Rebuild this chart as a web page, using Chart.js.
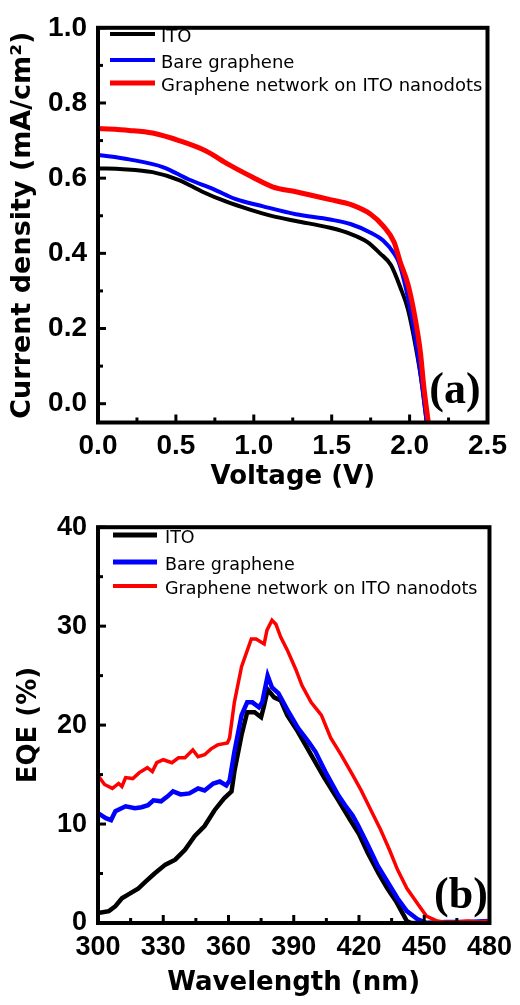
<!DOCTYPE html>
<html>
<head>
<meta charset="utf-8">
<script src="https://cdn.jsdelivr.net/npm/chart.js@4/dist/chart.umd.min.js"></script>
<style>
html,body{margin:0;padding:0;background:#fff;}
#wrap{position:relative;width:520px;height:1005px;}
canvas{position:absolute;left:0;}
</style>
</head>
<body>
<div id="wrap">
<canvas id="ca" width="520" height="500" style="top:0"></canvas>
<canvas id="cb" width="520" height="505" style="top:500px"></canvas>
</div>
<script>
// ---------- Panel (a): J-V curves ----------
const seriesLabels = ['ITO', 'Bare graphene', 'Graphene network on ITO nanodots'];

const vITO  = [0,0.16,0.35,0.52,0.67,0.82,0.97,1.12,1.27,1.49,1.62,1.73,1.81,1.88,1.94,1.99,2.04,2.08,2.11];
const jITO  = [0.626,0.624,0.616,0.595,0.564,0.538,0.517,0.499,0.486,0.468,0.452,0.430,0.400,0.369,0.310,0.250,0.150,0.050,-0.050];

const vBare = [0,0.2,0.42,0.58,0.74,0.88,1.06,1.27,1.49,1.62,1.75,1.83,1.90,1.93,1.98,2.03,2.07,2.11];
const jBare = [0.662,0.650,0.629,0.597,0.571,0.545,0.525,0.504,0.490,0.478,0.455,0.434,0.400,0.377,0.300,0.190,0.080,-0.050];

const vGr   = [0,0.2,0.35,0.52,0.69,0.84,0.99,1.12,1.27,1.49,1.62,1.75,1.83,1.90,1.94,1.99,2.03,2.07,2.09,2.12];
const jGr   = [0.732,0.727,0.720,0.700,0.673,0.636,0.603,0.577,0.564,0.543,0.530,0.504,0.473,0.430,0.377,0.317,0.240,0.135,0.050,-0.050];

const xTicksA = [0,0.5,1.0,1.5,2.0,2.5];
const yTicksA = [0,0.2,0.4,0.6,0.8,1.0];

// ---------- Panel (b): EQE spectra ----------
const wlITO  = [300,305,308,311,314,318.6,322,326,331,335.5,340,344.5,349,353.6,358,361.4,362.7,366,368.6,372,375,376.4,378,381,384,387,392,398,404,410.5,416,420,424,429,433,437,440,442,444,450,460,470,480];
const eqeITO = [1.0,1.2,1.7,2.5,2.9,3.5,4.2,5.0,5.9,6.4,7.4,8.8,9.8,11.4,12.6,13.3,15.3,19.0,21.3,21.3,20.8,22.0,23.6,22.8,22.5,21.0,19.3,17.0,14.7,12.4,10.4,9.0,7.1,5.0,3.5,2.2,1.0,0.2,0,0,0,0,0];

const wlBare  = [300,303.6,306,308,312.7,317,320,323,325.5,329,332,334.5,338,342,346,349,353,356,359,360.5,362.7,366,368.6,371,374,375.5,378,380,383,387.7,392,396.8,400,404.5,410.5,413.6,417,419.5,424,428.6,433,437.7,442,446.8,451,460,470,480];
const eqeBare = [11.1,10.6,10.4,11.3,11.8,11.6,11.7,11.9,12.4,12.3,12.8,13.3,13.0,13.1,13.6,13.4,14.1,14.3,13.9,14.4,17.3,21.0,22.3,22.3,21.8,22.3,25.0,23.8,23.2,21.3,19.7,18.3,17.3,15.3,12.9,11.9,10.9,9.9,7.9,5.8,4.2,2.5,1.2,0.4,0.0,0.1,0.1,0.2];

const wlGr  = [300,303,306.6,309.5,311,312.7,316,319,322.7,325,327,330,334,337,340,343.6,346,349,352,355,359.5,360.5,362.7,366,370.5,372.7,376.4,377.7,380,381.8,384,387,389,391,393.8,398,402.7,407,411.8,417,421,425.5,430,434,437.7,442,446.8,451,456,459,465,470,475,480];
const eqeGr = [14.9,14.0,13.6,14.1,13.8,14.7,14.6,15.2,15.7,15.3,16.2,16.5,16.2,16.7,16.7,17.5,16.8,17.0,17.6,18.0,18.2,18.7,22.3,25.9,28.7,28.7,28.2,29.6,30.6,30.2,28.9,27.6,26.6,25.6,24.0,22.3,21.0,18.7,17.0,15.0,13.4,11.4,9.4,7.4,5.4,3.5,2.0,0.7,0.2,0.1,0.1,0.2,0.1,0.2];

const xTicksB = [300,330,360,390,420,450,480];
const yTicksB = [0,10,20,30,40];

const colors = ['#000000', '#0000ff', '#ff0000'];

function pairs(xs, ys){ return xs.map((x,i)=>({x:x, y:ys[i]})); }
function mids(arr){ const m=[]; for(let i=0;i<arr.length-1;i++) m.push((arr[i]+arr[i+1])/2); return m; }

const framePlugin = {
  id: 'frame',
  afterDatasetsDraw(chart, args, o) {
    const {ctx, chartArea: a, scales: {x, y}} = chart;
    ctx.save();
    ctx.strokeStyle = '#000';
    ctx.lineWidth = 3;
    ctx.lineCap = 'butt';
    const tx = (v, len) => { const p = x.getPixelForValue(v); ctx.beginPath(); ctx.moveTo(p, a.bottom); ctx.lineTo(p, a.bottom - len); ctx.stroke(); };
    const ty = (v, len) => { const p = y.getPixelForValue(v); ctx.beginPath(); ctx.moveTo(a.left, p); ctx.lineTo(a.left + len, p); ctx.stroke(); };
    o.xMajor.forEach(v => tx(v, 8));
    mids(o.xMajor).forEach(v => tx(v, 5));
    o.yMajor.forEach(v => ty(v, 8));
    mids(o.yMajor).forEach(v => ty(v, 5));
    ctx.lineWidth = 4;
    ctx.strokeRect(a.left, a.top, a.right - a.left, a.bottom - a.top);
    // legend
    ctx.font = o.legendFont;
    ctx.textBaseline = 'middle';
    ctx.textAlign = 'left';
    chart.data.datasets.forEach((ds, i) => {
      const yy = o.legendY[i];
      ctx.strokeStyle = ds.borderColor;
      ctx.lineWidth = ds.legendWidth;
      ctx.beginPath(); ctx.moveTo(o.legendX0, yy); ctx.lineTo(o.legendX1, yy); ctx.stroke();
      ctx.fillStyle = '#000';
      ctx.fillText(ds.label, o.legendTextX, yy + 3);
    });
    // panel tag
    ctx.font = 'bold 44px "Liberation Serif", "Times New Roman", serif';
    ctx.textAlign = 'center';
    ctx.fillStyle = '#000';
    ctx.fillText(o.tag, o.tagX, o.tagY);
    ctx.restore();
  }
};

function makeChart(id, cfg) {
  const tickFont = {family: '"Liberation Sans", Arial, sans-serif', weight: 'bold', size: cfg.tickSize};
  const titleFont = {family: '"DejaVu Sans", sans-serif', weight: 'bold', size: 26};
  const yTitleFont = {family: '"DejaVu Sans", sans-serif', weight: 'bold', size: cfg.yTitleSize};
  return new Chart(document.getElementById(id), {
    type: 'scatter',
    data: {
      datasets: cfg.series.map((s, i) => ({
        label: seriesLabels[i],
        data: s.data,
        showLine: true,
        borderColor: colors[i],
        backgroundColor: colors[i],
        borderWidth: s.width,
        legendWidth: s.legendWidth,
        pointRadius: 0,
        tension: cfg.smooth ? 0.4 : 0,
        cubicInterpolationMode: cfg.smooth ? 'monotone' : 'default',
        order: 2 - i
      }))
    },
    options: {
      responsive: false,
      animation: false,
      devicePixelRatio: 1,
      layout: {padding: cfg.padding},
      plugins: {
        legend: {display: false},
        tooltip: {enabled: false},
        frame: cfg.frame
      },
      scales: {
        x: {
          type: 'linear', min: cfg.xMin, max: cfg.xMax,
          afterBuildTicks: s => { s.ticks = cfg.xTicks.map(v => ({value: v})); },
          afterFit: s => { s.height = cfg.xAxisH; },
          grid: {display: false, drawTicks: false},
          border: {display: false},
          ticks: {font: tickFont, color: '#000', padding: cfg.xTickPad, maxRotation: 0, autoSkip: false,
                  callback: v => cfg.xFmt(v)},
          title: {display: true, text: cfg.xTitle, font: titleFont, color: '#000', padding: {top: 0, bottom: cfg.xTitlePad}}
        },
        y: {
          type: 'linear', min: cfg.yMin, max: cfg.yMax,
          afterBuildTicks: s => { s.ticks = cfg.yTicks.map(v => ({value: v})); },
          afterFit: s => { s.width = 98; },
          grid: {display: false, drawTicks: false},
          border: {display: false},
          ticks: {font: tickFont, color: '#000', padding: 11, autoSkip: false,
                  callback: v => cfg.yFmt(v)},
          title: {display: true, text: cfg.yTitle, font: yTitleFont, color: '#000', padding: {top: cfg.yTitlePad, bottom: 0}}
        }
      }
    },
    plugins: [framePlugin]
  });
}

makeChart('ca', {
  series: [
    {data: pairs(vITO, jITO), width: 4, legendWidth: 4},
    {data: pairs(vBare, jBare), width: 4, legendWidth: 4},
    {data: pairs(vGr, jGr), width: 5, legendWidth: 5}
  ],
  smooth: true,
  tickSize: 28,
  yTitleSize: 27,
  padding: {left: 0, top: 17.5, right: 32.5, bottom: 0},
  xAxisH: 77.5,
  xMin: 0, xMax: 2.5, yMin: -0.05, yMax: 1.0,
  xTicks: xTicksA, yTicks: yTicksA,
  xFmt: v => v.toFixed(1), yFmt: v => v.toFixed(1),
  xTickPad: 7, xTitlePad: 7, yTitlePad: 7,
  xTitle: 'Voltage (V)', yTitle: 'Current density (mA/cm²)',
  frame: {xMajor: xTicksA, yMajor: yTicksA, legendFont: '18px "DejaVu Sans", sans-serif',
          legendX0: 110, legendX1: 155, legendTextX: 161, legendY: [34, 60, 83],
          tag: '(a)', tagX: 455, tagY: 392}
});

makeChart('cb', {
  series: [
    {data: pairs(wlITO, eqeITO), width: 4.5, legendWidth: 5},
    {data: pairs(wlBare, eqeBare), width: 4.5, legendWidth: 5},
    {data: pairs(wlGr, eqeGr), width: 3.5, legendWidth: 4}
  ],
  smooth: false,
  tickSize: 27,
  yTitleSize: 26,
  padding: {left: 0, top: 19, right: 27.5, bottom: 0},
  xAxisH: 82,
  xMin: 300, xMax: 480, yMin: 0, yMax: 40,
  xTicks: xTicksB, yTicks: yTicksB,
  xFmt: v => String(v), yFmt: v => String(v),
  xTickPad: 8, xTitlePad: 6, yTitlePad: 14,
  xTitle: 'Wavelength (nm)', yTitle: 'EQE (%)',
  frame: {xMajor: xTicksB, yMajor: yTicksB, legendFont: '17.5px "DejaVu Sans", sans-serif',
          legendX0: 113, legendX1: 157, legendTextX: 165, legendY: [35, 62, 86],
          tag: '(b)', tagX: 461, tagY: 397}
});
</script>
</body>
</html>
